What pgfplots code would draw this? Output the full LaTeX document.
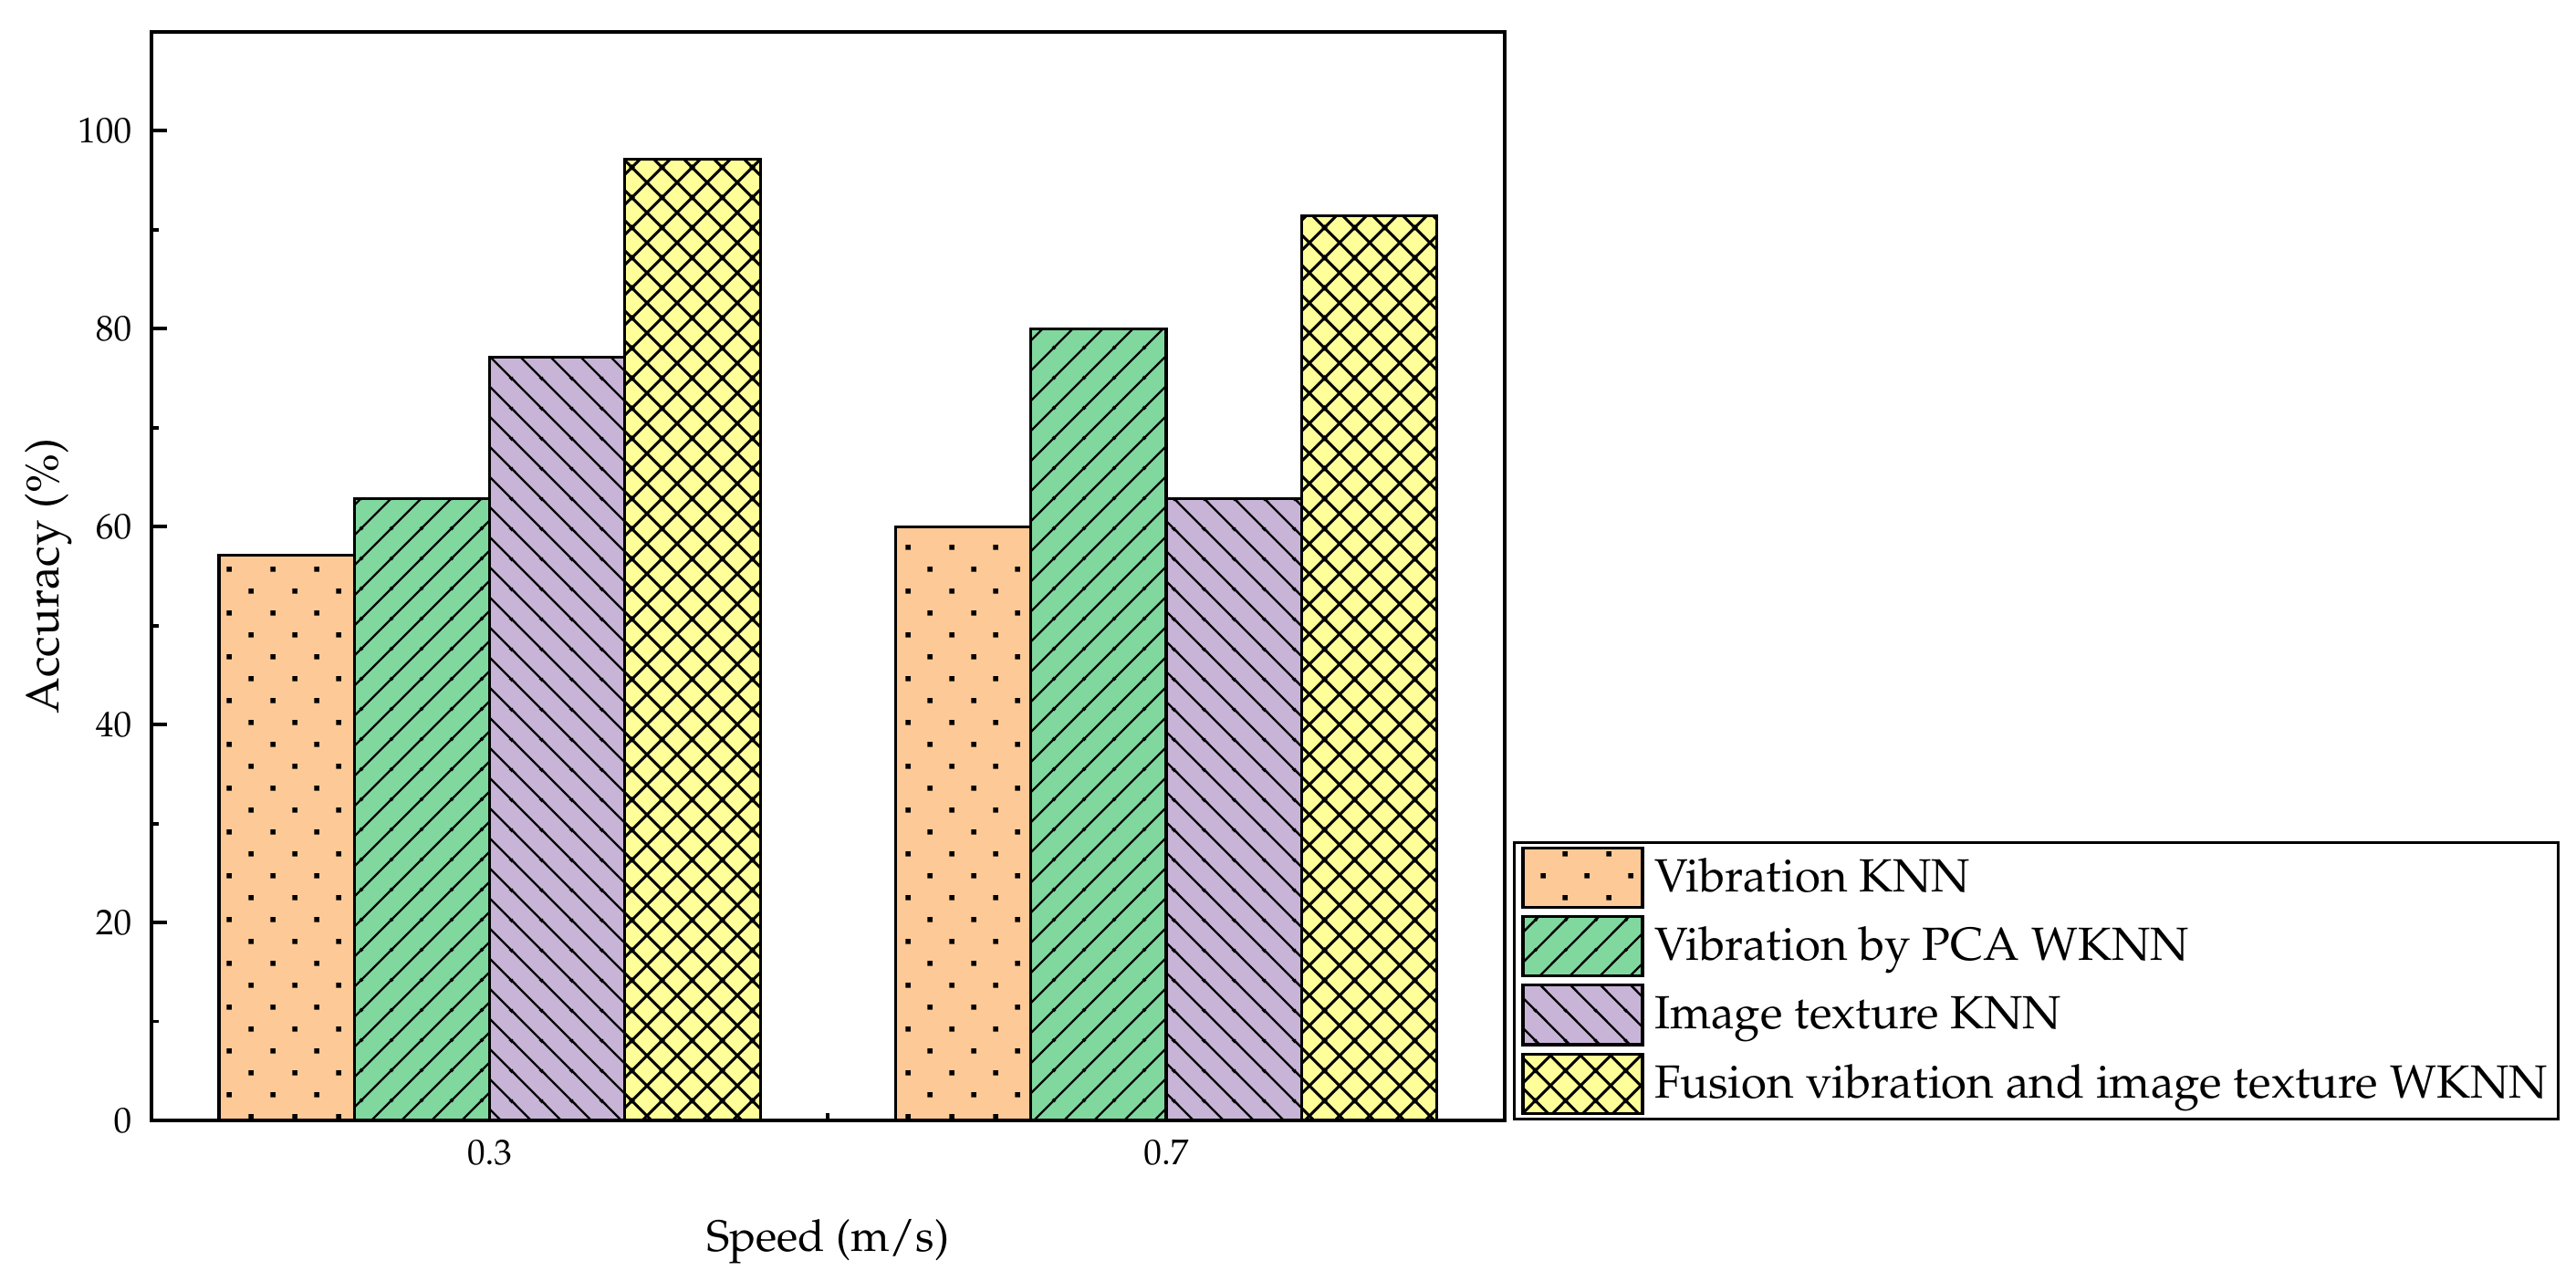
\documentclass[border=0pt]{standalone}
\usepackage[T1]{fontenc}
\usepackage{mathpazo}
\usepackage{pgfplots}
\pgfplotsset{compat=1.18}
\usetikzlibrary{patterns}

\definecolor{cA}{RGB}{253,201,150}
\definecolor{cB}{RGB}{128,216,158}
\definecolor{cC}{RGB}{200,180,215}
\definecolor{cD}{RGB}{255,255,153}

\pgfdeclarepatternformonly{sqdots}{\pgfpointorigin}{\pgfpoint{12.24pt}{12.24pt}}{\pgfpoint{12.24pt}{12.24pt}}{%
  \pgfpathrectangle{\pgfpoint{2.4pt}{2.4pt}}{\pgfpoint{1.4pt}{1.4pt}}%
  \pgfpathrectangle{\pgfpoint{8.52pt}{8.52pt}}{\pgfpoint{1.4pt}{1.4pt}}%
  \pgfusepath{fill}}

% "/" lines, vertical period 8.42pt
\pgfdeclarepatternformonly{diagNE}{\pgfpointorigin}{\pgfpoint{8.42pt}{8.42pt}}{\pgfpoint{8.42pt}{8.42pt}}{%
  \pgfsetlinewidth{0.62pt}%
  \pgfpathmoveto{\pgfpoint{-1pt}{-1pt}}\pgfpathlineto{\pgfpoint{9.42pt}{9.42pt}}%
  \pgfpathmoveto{\pgfpoint{-1pt}{7.42pt}}\pgfpathlineto{\pgfpoint{1pt}{9.42pt}}%
  \pgfpathmoveto{\pgfpoint{7.42pt}{-1pt}}\pgfpathlineto{\pgfpoint{9.42pt}{1pt}}%
  \pgfusepath{stroke}}

% "\" lines
\pgfdeclarepatternformonly{diagNW}{\pgfpointorigin}{\pgfpoint{8.42pt}{8.42pt}}{\pgfpoint{8.42pt}{8.42pt}}{%
  \pgfsetlinewidth{0.62pt}%
  \pgfpathmoveto{\pgfpoint{-1pt}{9.42pt}}\pgfpathlineto{\pgfpoint{9.42pt}{-1pt}}%
  \pgfpathmoveto{\pgfpoint{-1pt}{1pt}}\pgfpathlineto{\pgfpoint{1pt}{-1pt}}%
  \pgfpathmoveto{\pgfpoint{7.42pt}{9.42pt}}\pgfpathlineto{\pgfpoint{9.42pt}{7.42pt}}%
  \pgfusepath{stroke}}

% crosshatch
\pgfdeclarepatternformonly{xhatch}{\pgfpointorigin}{\pgfpoint{8.42pt}{8.42pt}}{\pgfpoint{8.42pt}{8.42pt}}{%
  \pgfsetlinewidth{0.78pt}%
  \pgfpathmoveto{\pgfpoint{-1pt}{-1pt}}\pgfpathlineto{\pgfpoint{9.42pt}{9.42pt}}%
  \pgfpathmoveto{\pgfpoint{-1pt}{7.42pt}}\pgfpathlineto{\pgfpoint{1pt}{9.42pt}}%
  \pgfpathmoveto{\pgfpoint{7.42pt}{-1pt}}\pgfpathlineto{\pgfpoint{9.42pt}{1pt}}%
  \pgfpathmoveto{\pgfpoint{-1pt}{9.42pt}}\pgfpathlineto{\pgfpoint{9.42pt}{-1pt}}%
  \pgfpathmoveto{\pgfpoint{-1pt}{1pt}}\pgfpathlineto{\pgfpoint{1pt}{-1pt}}%
  \pgfpathmoveto{\pgfpoint{7.42pt}{9.42pt}}\pgfpathlineto{\pgfpoint{9.42pt}{7.42pt}}%
  \pgfusepath{stroke}}

\pgfplotstableread{
x  vknn  pca   img   fus
0  57.14 62.86 77.14 97.14
1  60.00 80.00 62.86 91.43
}\datatable

\begin{document}
\begin{tikzpicture}
\path[use as bounding box] (-42.3pt,-44.7pt) rectangle (677.7pt,313.2pt);
\begin{axis}[
  at={(0,0)}, anchor=south west,
  scale only axis, width=378.2pt, height=304.3pt,
  xmin=-0.5, xmax=1.5, ymin=0, ymax=110,
  xtick={0,1}, xticklabels={0.3,0.7}, minor xtick={0.5},
  ytick={0,20,...,100}, minor ytick={10,30,...,90},
  xtick pos=bottom, ytick pos=left,
  tick align=inside,
  major tick length=4.3pt, minor tick length=2pt,
  every tick/.style={black, line width=1pt},
  axis line style={line width=1pt},
  tick label style={font=\fontsize{10}{12}\selectfont},
  yticklabel style={xshift=-2pt},
  xticklabel style={yshift=-2pt},
  xlabel={Speed (m/s)}, ylabel={Accuracy (\%)},
  xlabel style={font=\fontsize{12.3}{14}\selectfont, at={(axis description cs:0.5,-0.1200)}, anchor=base},
  ylabel style={font=\fontsize{13}{15}\selectfont, at={(axis description cs:-0.0761,0.5)}, anchor=center},
  legend style={at={(axis description cs:1,0)}, anchor=south west, xshift=2.4pt,
    draw=black, line width=0.75pt, font=\fontsize{13}{15}\selectfont,
    inner xsep=2pt, inner ysep=1.2pt, row sep=1.8pt, column sep=2pt,
    nodes={inner sep=1pt}},
  legend cell align=left,
  mybar/.style={ybar, bar width=0.2, draw=black, line width=0.8pt,
    legend image code/.code={\draw[##1,line width=0.8pt] (0pt,-8.3pt) rectangle (33.4pt,8.3pt);}},
]
\addplot[mybar, bar shift=-0.3, fill=cA, postaction={pattern=sqdots, pattern color=black}]
  table[x=x, y=vknn] {\datatable};
\addlegendentry{Vibration KNN}
\addplot[mybar, bar shift=-0.1, fill=cB, postaction={pattern=diagNE, pattern color=black}]
  table[x=x, y=pca] {\datatable};
\addlegendentry{Vibration by PCA WKNN}
\addplot[mybar, bar shift=0.1, fill=cC, postaction={pattern=diagNW, pattern color=black}]
  table[x=x, y=img] {\datatable};
\addlegendentry{Image texture KNN}
\addplot[mybar, bar shift=0.3, fill=cD, postaction={pattern=xhatch, pattern color=black}]
  table[x=x, y=fus] {\datatable};
\addlegendentry{Fusion vibration and image texture WKNN}
\end{axis}
\end{tikzpicture}
\end{document}
